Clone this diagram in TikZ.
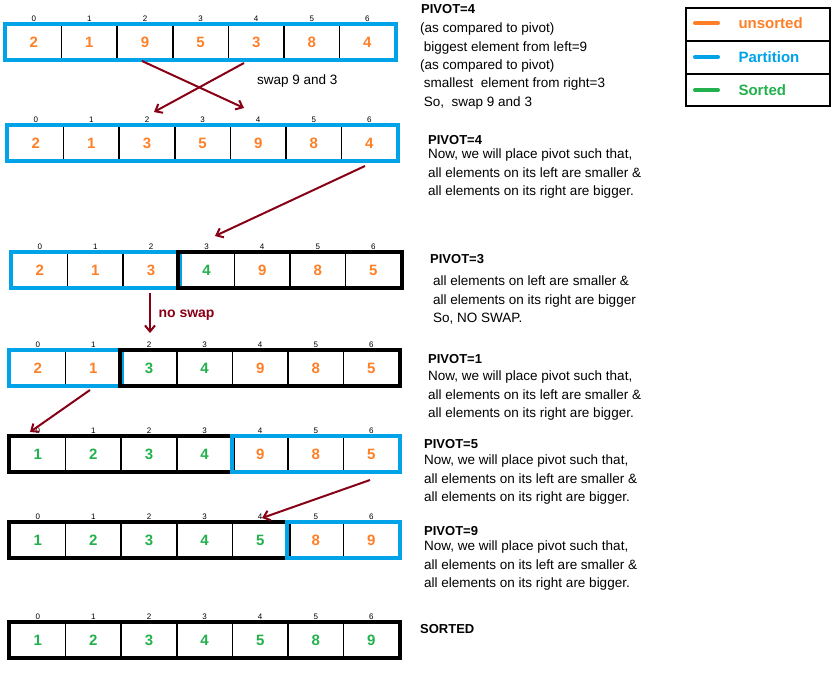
\documentclass[tikz,border=0pt]{standalone}
\usepackage{fontspec}
\setmainfont{Liberation Sans}
\definecolor{o}{RGB}{255,127,39}
\definecolor{b}{RGB}{0,162,232}
\definecolor{g}{RGB}{34,177,76}
\definecolor{arr}{RGB}{136,0,21}
\tikzset{
  cell/.style={draw=black,line width=1.5pt,minimum width=55.6pt,minimum height=35pt,
    inner sep=0pt,font=\bfseries\fontsize{15}{15}\selectfont},
  idx/.style={above=2pt,inner sep=0pt,font=\fontsize{8}{8}\selectfont},
  bluefr/.style={draw=b,line width=4pt},
  blackfr/.style={draw=black,line width=4pt},
  swaparrow/.style={draw=arr,line width=2pt,-{Straight Barb[length=6pt,width=10pt]}},
  note/.style={anchor=north west,align=left,inner sep=0pt,font=\fontsize{13.5}{18.3}\selectfont},
  head/.style={anchor=north west,inner sep=0pt,font=\bfseries\fontsize{13}{14}\selectfont},
}
\newcommand\arrayrow[4]{%
  \foreach \v/\c [count=\i from 0] in {#4}{
    \node[cell,text=\c] (#1-\i) at ({#2+27.8+55.6*\i},#3) {\v};
    \node[idx] at (#1-\i.north) {\i};
  }}
\usetikzlibrary{arrows.meta}
\begin{document}
\begin{tikzpicture}[x=1pt,y=-1pt]
  \useasboundingbox (0,0) rectangle (840,673);
  % arrays
  \arrayrow{r1}{6}{42}{2/o,1/o,9/o,5/o,3/o,8/o,4/o}
  \arrayrow{r2}{8}{143}{2/o,1/o,3/o,5/o,9/o,8/o,4/o}
  \arrayrow{r3}{12}{270}{2/o,1/o,3/o,4/g,9/o,8/o,5/o}
  \arrayrow{r4}{10}{368}{2/o,1/o,3/g,4/g,9/o,8/o,5/o}
  \arrayrow{r5}{10}{454}{1/g,2/g,3/g,4/g,9/o,8/o,5/o}
  \arrayrow{r6}{10}{540}{1/g,2/g,3/g,4/g,5/g,8/o,9/o}
  \arrayrow{r7}{10}{640}{1/g,2/g,3/g,4/g,5/g,8/g,9/g}
  % frames
  \draw[bluefr] (r1-0.north west) rectangle (r1-6.south east);
  \draw[bluefr] (r2-0.north west) rectangle (r2-6.south east);
  \draw[bluefr] (r3-0.north west) rectangle (r3-2.south east);
  \draw[blackfr] (r3-3.north west) rectangle (r3-6.south east);
  \draw[bluefr] (r4-0.north west) rectangle (r4-1.south east);
  \draw[blackfr] (r4-2.north west) rectangle (r4-6.south east);
  \draw[blackfr] (r5-0.north west) rectangle (r5-3.south east);
  \draw[bluefr] (r5-4.north west) rectangle (r5-6.south east);
  \draw[blackfr] (r6-0.north west) rectangle (r6-4.south east);
  \draw[bluefr] (r6-5.north west) rectangle (r6-6.south east);
  \draw[blackfr] (r7-0.north west) rectangle (r7-6.south east);
  % arrows
  \coordinate (s1) at (142,61);
  \coordinate (s2) at (244,63);
  \coordinate (e1) at (244,108);
  \coordinate (e2) at (154,112);
  \draw[swaparrow] (s1) -- (e1);
  \draw[swaparrow] (s2) -- (e2);
  \node[note] (swaptext) at (257,75) {swap 9 and 3};
  \coordinate (a2) at (365,166);
  \coordinate (b2) at (215,236);
  \draw[swaparrow] (a2) -- (b2);
  \coordinate (a3) at (150,293);
  \coordinate (b3) at (150,333);
  \draw[swaparrow] (a3) -- (b3);
  \node[anchor=west,text=arr,font=\bfseries\fontsize{14}{14}\selectfont] (noswap) at (155,315) {no swap};
  \coordinate (a4) at (90,390);
  \coordinate (b4) at (30,432);
  \draw[swaparrow] (a4) -- (b4);
  \coordinate (a5) at (370,480);
  \coordinate (b5) at (262,518);
  \draw[swaparrow] (a5) -- (b5);
  % notes
  \node[head] (p1) at (421,4) {PIVOT=4};
  \node[note] (t1) at (420,23) {(as compared to pivot)\\\ biggest element from left=9\\(as compared to pivot)\\\ smallest\ \ element from right=3\\\ So,\ \ swap 9 and 3};
  \node[head] (p2) at (428,135) {PIVOT=4};
  \node[note] (t2) at (428,149) {Now, we will place pivot such that,\\all elements on its left are smaller \&\\all elements on its right are bigger.};
  \node[head] (p3) at (430,254) {PIVOT=3};
  \node[note] (t3) at (433,276) {all elements on left are smaller \&\\all elements on its right are bigger\\So, NO SWAP.};
  \node[head] (p4) at (428,354) {PIVOT=1};
  \node[note] (t4) at (428,371) {Now, we will place pivot such that,\\all elements on its left are smaller \&\\all elements on its right are bigger.};
  \node[head] (p5) at (424,439) {PIVOT=5};
  \node[note] (t5) at (424,455) {Now, we will place pivot such that,\\all elements on its left are smaller \&\\all elements on its right are bigger.};
  \node[head] (p6) at (424,526) {PIVOT=9};
  \node[note] (t6) at (424,541) {Now, we will place pivot such that,\\all elements on its left are smaller \&\\all elements on its right are bigger.};
  \node[head] (p7) at (420,624) {SORTED};
  % legend
  \draw[line width=2pt] (686,8) rectangle (830,106);
  \draw[line width=2pt] (686,41) -- (830,41) (686,74) -- (830,74);
  \foreach \t/\c/\y [count=\k] in {unsorted/o/23,Partition/b/57,Sorted/g/90}{
    \draw[\c,line width=4pt,line cap=round] (695,\y) -- (718,\y);
    \node[anchor=west,text=\c,font=\bfseries\fontsize{15}{15}\selectfont] (leg\k) at (735,\y) {\t};
  }
\end{tikzpicture}
\end{document}
